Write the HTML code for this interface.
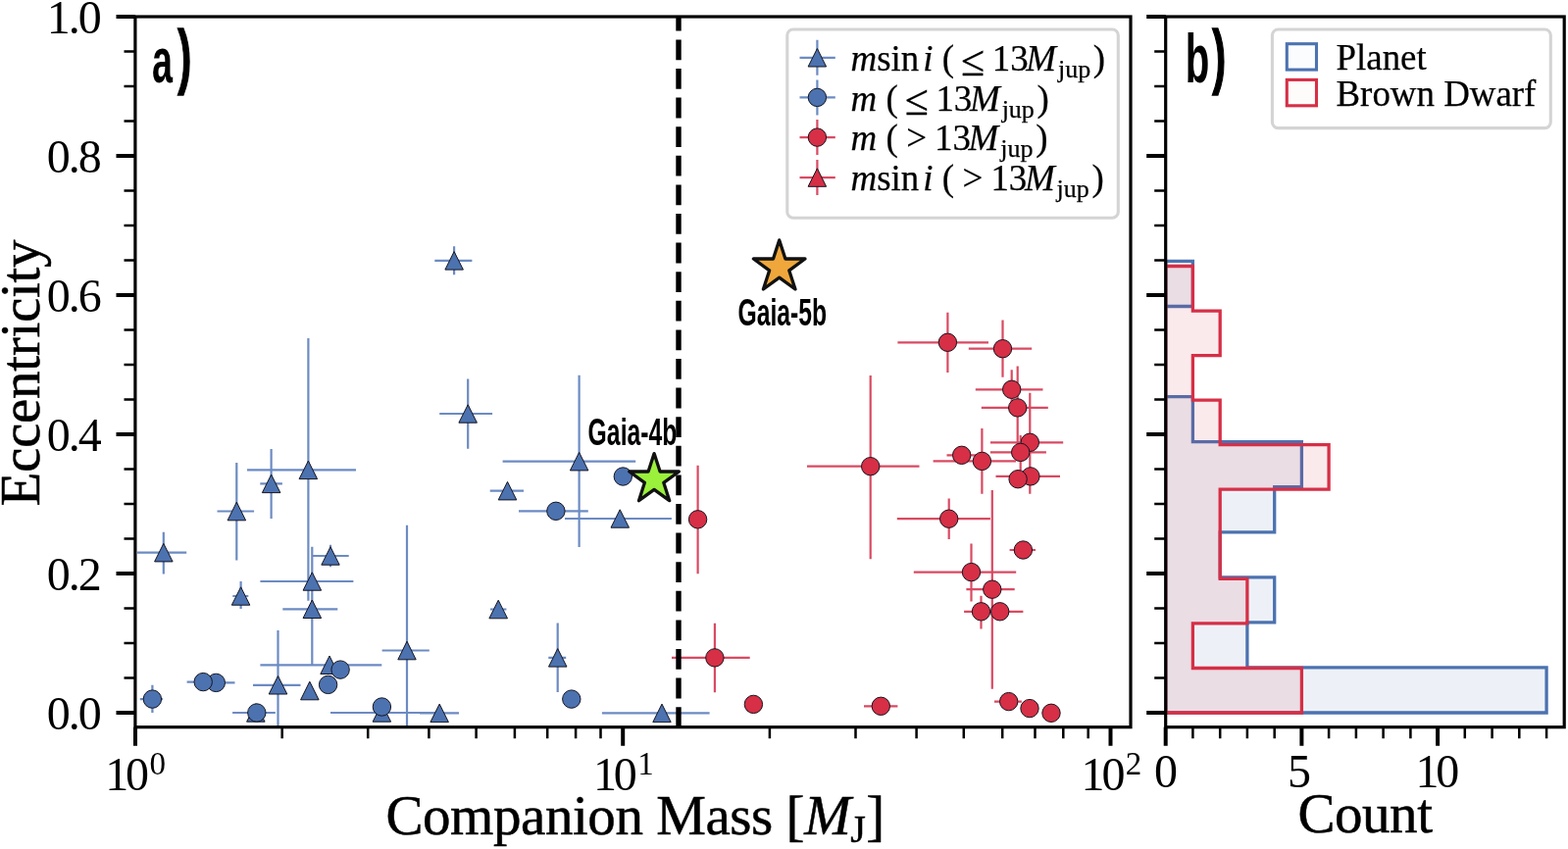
<!DOCTYPE html>
<html lang="en"><head><meta charset="utf-8"><title>Eccentricity vs companion mass</title>
<style>html,body{margin:0;padding:0;background:#fff;overflow:hidden}svg{display:block}</style></head>
<body>
<svg width="1599" height="866" viewBox="0 0 1599 866">
<rect width="1599" height="866" fill="#fff"/>
<defs>
<clipPath id="ca"><rect x="138.0" y="17.0" width="1015.0" height="724.7"/></clipPath>
<clipPath id="cb"><rect x="1188.7" y="17.0" width="406.5" height="724.7"/></clipPath>
</defs>
<g clip-path="url(#ca)">
<path d="M140.0 563.6H190.2M166.8 542.8V585.4M221.5 521.5H259.1M241.3 471.9V571.6M265.3 493.4H287.9M276.6 458.1V529.0M252.0 479.4H363.0M314.4 345.0V612.8M317.5 567.0H355.7M337.0 555.7V578.3M265.4 593.0H360.4M318.3 557.8V628.0M237.3 608.0H253.3M245.6 593.0V621.0M288.3 621.3H344.3M318.3 565.0V677.9M258.0 698.8H306.5M283.5 642.9V745.0M265.4 678.3H389.3M237.3 727.0H280.6M337.0 727.0H445.0M389.6 663.5H437.8M415.0 535.7V745.0M428.0 727.4H468.0M443.3 265.9H481.4M463.1 251.3V280.2M448.2 422.0H502.1M477.2 386.6V457.7M499.7 500.6H534.0M500.0 621.5H516.4M559.3 670.9H577.2M568.7 635.5V706.1M512.6 470.7H648.2M590.6 382.8V558.0M576.0 529.0H684.9M613.9 727.4H723.6" stroke="#6c8bc3" stroke-width="2.2" fill="none"/>
<path d="M166.8 554.4L176.1 572.9H157.6Z" fill="#4c72b0" stroke="#15151f" stroke-width="1" stroke-linejoin="miter"/><path d="M241.3 512.2L250.6 530.8H232.1Z" fill="#4c72b0" stroke="#15151f" stroke-width="1" stroke-linejoin="miter"/><path d="M276.6 484.1L285.9 502.6H267.4Z" fill="#4c72b0" stroke="#15151f" stroke-width="1" stroke-linejoin="miter"/><path d="M314.4 470.1L323.6 488.6H305.1Z" fill="#4c72b0" stroke="#15151f" stroke-width="1" stroke-linejoin="miter"/><path d="M337.0 557.8L346.2 576.2H327.8Z" fill="#4c72b0" stroke="#15151f" stroke-width="1" stroke-linejoin="miter"/><path d="M318.3 583.8L327.6 602.2H309.1Z" fill="#4c72b0" stroke="#15151f" stroke-width="1" stroke-linejoin="miter"/><path d="M245.6 598.8L254.8 617.2H236.3Z" fill="#4c72b0" stroke="#15151f" stroke-width="1" stroke-linejoin="miter"/><path d="M318.3 612.0L327.6 630.5H309.1Z" fill="#4c72b0" stroke="#15151f" stroke-width="1" stroke-linejoin="miter"/><path d="M283.5 689.5L292.8 708.0H274.2Z" fill="#4c72b0" stroke="#15151f" stroke-width="1" stroke-linejoin="miter"/><path d="M315.8 695.2L325.1 713.8H306.6Z" fill="#4c72b0" stroke="#15151f" stroke-width="1" stroke-linejoin="miter"/><path d="M336.0 669.0L345.2 687.5H326.8Z" fill="#4c72b0" stroke="#15151f" stroke-width="1" stroke-linejoin="miter"/><path d="M260.8 717.8L270.1 736.2H251.6Z" fill="#4c72b0" stroke="#15151f" stroke-width="1" stroke-linejoin="miter"/><path d="M389.4 717.8L398.6 736.2H380.1Z" fill="#4c72b0" stroke="#15151f" stroke-width="1" stroke-linejoin="miter"/><path d="M415.0 654.2L424.2 672.8H405.8Z" fill="#4c72b0" stroke="#15151f" stroke-width="1" stroke-linejoin="miter"/><path d="M448.2 718.1L457.4 736.6H438.9Z" fill="#4c72b0" stroke="#15151f" stroke-width="1" stroke-linejoin="miter"/><path d="M463.1 256.6L472.4 275.1H453.9Z" fill="#4c72b0" stroke="#15151f" stroke-width="1" stroke-linejoin="miter"/><path d="M477.2 412.8L486.4 431.2H467.9Z" fill="#4c72b0" stroke="#15151f" stroke-width="1" stroke-linejoin="miter"/><path d="M517.5 491.4L526.8 509.9H508.2Z" fill="#4c72b0" stroke="#15151f" stroke-width="1" stroke-linejoin="miter"/><path d="M508.2 612.2L517.5 630.8H498.9Z" fill="#4c72b0" stroke="#15151f" stroke-width="1" stroke-linejoin="miter"/><path d="M568.7 661.6L578.0 680.1H559.5Z" fill="#4c72b0" stroke="#15151f" stroke-width="1" stroke-linejoin="miter"/><path d="M590.6 461.4L599.9 479.9H581.4Z" fill="#4c72b0" stroke="#15151f" stroke-width="1" stroke-linejoin="miter"/><path d="M632.2 519.8L641.5 538.2H623.0Z" fill="#4c72b0" stroke="#15151f" stroke-width="1" stroke-linejoin="miter"/><path d="M675.0 718.1L684.2 736.6H665.8Z" fill="#4c72b0" stroke="#15151f" stroke-width="1" stroke-linejoin="miter"/>
<path d="M142.8 713.1H166.1M155.4 698.8V727.0M203.0 696.4H239.5M190.6 695.6H224.0M237.3 727.0H280.6M529.0 521.3H599.8" stroke="#6c8bc3" stroke-width="2.2" fill="none"/>
<circle cx="155.4" cy="713.1" r="9.2" fill="#4c72b0" stroke="#15151f" stroke-width="1"/><circle cx="220.3" cy="696.4" r="9.2" fill="#4c72b0" stroke="#15151f" stroke-width="1"/><circle cx="207.2" cy="695.6" r="9.2" fill="#4c72b0" stroke="#15151f" stroke-width="1"/><circle cx="261.8" cy="727.0" r="9.2" fill="#4c72b0" stroke="#15151f" stroke-width="1"/><circle cx="334.6" cy="698.4" r="9.2" fill="#4c72b0" stroke="#15151f" stroke-width="1"/><circle cx="347.1" cy="683.1" r="9.2" fill="#4c72b0" stroke="#15151f" stroke-width="1"/><circle cx="389.4" cy="721.0" r="9.2" fill="#4c72b0" stroke="#15151f" stroke-width="1"/><circle cx="566.9" cy="521.3" r="9.2" fill="#4c72b0" stroke="#15151f" stroke-width="1"/><circle cx="582.8" cy="713.1" r="9.2" fill="#4c72b0" stroke="#15151f" stroke-width="1"/><circle cx="635.3" cy="486.0" r="9.2" fill="#4c72b0" stroke="#15151f" stroke-width="1"/>
<path d="M711.6 474.7V585.3M685.0 670.9H764.7M728.9 635.8V706.2M823.0 475.7H937.5M887.7 382.9V570.2M881.0 720.3H915.4M915.4 349.3H1008.0M966.4 318.8V380.0M987.8 355.7H1052.2M1022.5 326.4V384.7M994.8 397.3H1063.5M1031.7 377.2V417.0M1000.8 415.9H1068.8M1037.7 373.4V455.0M1010.0 451.3H1084.2M1050.3 400.7V503.8M1009.9 461.4H1066.9M1040.7 444.0V480.0M965.5 464.3H996.0M951.6 470.4H1036.0M1001.4 437.0V503.8M1015.5 485.9H1081.0M914.8 529.2H1009.9M967.7 508.5V549.9M1029.6 561.0H1056.0M931.8 583.6H1036.2M990.5 554.5V613.4M985.4 601.2H1034.7M1011.8 500.0V702.8M1000.0 623.8H1043.4M983.1 623.8H1018.0M1000.5 607.8V641.6M1014.0 715.6H1041.9" stroke="#d94a62" stroke-width="2.2" fill="none"/>
<circle cx="711.6" cy="529.8" r="9.2" fill="#d62f46" stroke="#15151f" stroke-width="1"/><circle cx="728.9" cy="670.9" r="9.2" fill="#d62f46" stroke="#15151f" stroke-width="1"/><circle cx="768.4" cy="718.4" r="9.2" fill="#d62f46" stroke="#15151f" stroke-width="1"/><circle cx="887.7" cy="475.7" r="9.2" fill="#d62f46" stroke="#15151f" stroke-width="1"/><circle cx="898.3" cy="720.3" r="9.2" fill="#d62f46" stroke="#15151f" stroke-width="1"/><circle cx="966.4" cy="349.3" r="9.2" fill="#d62f46" stroke="#15151f" stroke-width="1"/><circle cx="1022.5" cy="355.7" r="9.2" fill="#d62f46" stroke="#15151f" stroke-width="1"/><circle cx="1031.7" cy="397.3" r="9.2" fill="#d62f46" stroke="#15151f" stroke-width="1"/><circle cx="1037.7" cy="415.9" r="9.2" fill="#d62f46" stroke="#15151f" stroke-width="1"/><circle cx="1050.3" cy="451.3" r="9.2" fill="#d62f46" stroke="#15151f" stroke-width="1"/><circle cx="1040.7" cy="461.4" r="9.2" fill="#d62f46" stroke="#15151f" stroke-width="1"/><circle cx="980.7" cy="464.3" r="9.2" fill="#d62f46" stroke="#15151f" stroke-width="1"/><circle cx="1001.4" cy="470.4" r="9.2" fill="#d62f46" stroke="#15151f" stroke-width="1"/><circle cx="1050.9" cy="485.9" r="9.2" fill="#d62f46" stroke="#15151f" stroke-width="1"/><circle cx="1038.1" cy="488.7" r="9.2" fill="#d62f46" stroke="#15151f" stroke-width="1"/><circle cx="967.7" cy="529.2" r="9.2" fill="#d62f46" stroke="#15151f" stroke-width="1"/><circle cx="1043.4" cy="561.0" r="9.2" fill="#d62f46" stroke="#15151f" stroke-width="1"/><circle cx="990.5" cy="583.6" r="9.2" fill="#d62f46" stroke="#15151f" stroke-width="1"/><circle cx="1011.8" cy="601.2" r="9.2" fill="#d62f46" stroke="#15151f" stroke-width="1"/><circle cx="1019.7" cy="623.8" r="9.2" fill="#d62f46" stroke="#15151f" stroke-width="1"/><circle cx="1000.5" cy="623.8" r="9.2" fill="#d62f46" stroke="#15151f" stroke-width="1"/><circle cx="1028.7" cy="715.6" r="9.2" fill="#d62f46" stroke="#15151f" stroke-width="1"/><circle cx="1050.0" cy="722.6" r="9.2" fill="#d62f46" stroke="#15151f" stroke-width="1"/><circle cx="1072.0" cy="727.3" r="9.2" fill="#d62f46" stroke="#15151f" stroke-width="1"/>
<path d="M692 742V17" stroke="#000" stroke-width="5.4" stroke-dasharray="20.8 8.8" fill="none"/>
<path d="M667.1 462.6L673.1 481.0L692.4 481.0L676.8 492.3L682.7 510.7L667.1 499.4L651.5 510.7L657.4 492.3L641.8 481.0L661.1 481.0Z" fill="#9bf03c" stroke="#111" stroke-width="3.3" stroke-linejoin="round"/>
<path d="M794.7 244.9L800.9 264.0L821.0 264.0L804.8 275.9L811.0 295.0L794.7 283.2L778.4 295.0L784.6 275.9L768.4 264.0L788.5 264.0Z" fill="#efa73c" stroke="#111" stroke-width="3.3" stroke-linejoin="round"/>
</g>
<g clip-path="url(#cb)">
<path d="M1188.7 727L1577.1 727.0L1577.1 680.9L1271.9 680.9L1271.9 634.9L1299.7 634.9L1299.7 588.8L1244.2 588.8L1244.2 542.8L1299.7 542.8L1299.7 496.7L1327.4 496.7L1327.4 450.6L1216.4 450.6L1216.4 404.6L1188.7 404.6L1188.7 358.5L1188.7 358.5L1188.7 312.5L1216.4 312.5L1216.4 266.4L1188.7 266.4Z" fill="#4c72b0" fill-opacity="0.1" stroke="none"/>
<path d="M1188.7 727L1577.1 727.0L1577.1 680.9L1271.9 680.9L1271.9 634.9L1299.7 634.9L1299.7 588.8L1244.2 588.8L1244.2 542.8L1299.7 542.8L1299.7 496.7L1327.4 496.7L1327.4 450.6L1216.4 450.6L1216.4 404.6L1188.7 404.6L1188.7 358.5L1188.7 358.5L1188.7 312.5L1216.4 312.5L1216.4 266.4L1188.7 266.4Z" fill="none" stroke="#4c72b0" stroke-width="3.3" stroke-linejoin="miter"/>
<path d="M1188.7 727L1327.4 727.0L1327.4 681.5L1216.4 681.5L1216.4 635.9L1271.9 635.9L1271.9 590.4L1244.2 590.4L1244.2 544.8L1244.2 544.8L1244.2 499.2L1355.1 499.2L1355.1 453.7L1244.2 453.7L1244.2 408.2L1216.4 408.2L1216.4 362.6L1244.2 362.6L1244.2 317.1L1216.4 317.1L1216.4 271.5L1188.7 271.5Z" fill="#d62f46" fill-opacity="0.1" stroke="none"/>
<path d="M1188.7 727L1327.4 727.0L1327.4 681.5L1216.4 681.5L1216.4 635.9L1271.9 635.9L1271.9 590.4L1244.2 590.4L1244.2 544.8L1244.2 544.8L1244.2 499.2L1355.1 499.2L1355.1 453.7L1244.2 453.7L1244.2 408.2L1216.4 408.2L1216.4 362.6L1244.2 362.6L1244.2 317.1L1216.4 317.1L1216.4 271.5L1188.7 271.5Z" fill="none" stroke="#d62f46" stroke-width="3.3" stroke-linejoin="miter"/>
</g>
<path d="M118.5 727.0H138.0M1169.2 727.0H1188.7M118.5 585.0H138.0M1169.2 585.0H1188.7M118.5 443.0H138.0M1169.2 443.0H1188.7M118.5 301.0H138.0M1169.2 301.0H1188.7M118.5 159.0H138.0M1169.2 159.0H1188.7M118.5 17.0H138.0M1169.2 17.0H1188.7M138.0 741.7V760.7M635.2 741.7V760.7M1132.5 741.7V760.7M1188.7 741.7V760.7M1327.4 741.7V760.7M1466.1 741.7V760.7" stroke="#000" stroke-width="4" fill="none"/>
<path d="M126.5 691.5H138.0M1177.2 691.5H1188.7M126.5 656.0H138.0M1177.2 656.0H1188.7M126.5 620.5H138.0M1177.2 620.5H1188.7M126.5 549.5H138.0M1177.2 549.5H1188.7M126.5 514.0H138.0M1177.2 514.0H1188.7M126.5 478.5H138.0M1177.2 478.5H1188.7M126.5 407.5H138.0M1177.2 407.5H1188.7M126.5 372.0H138.0M1177.2 372.0H1188.7M126.5 336.5H138.0M1177.2 336.5H1188.7M126.5 265.5H138.0M1177.2 265.5H1188.7M126.5 230.0H138.0M1177.2 230.0H1188.7M126.5 194.5H138.0M1177.2 194.5H1188.7M126.5 123.5H138.0M1177.2 123.5H1188.7M126.5 88.0H138.0M1177.2 88.0H1188.7M126.5 52.5H138.0M1177.2 52.5H1188.7M287.7 741.7V753.2M375.2 741.7V753.2M437.4 741.7V753.2M485.6 741.7V753.2M524.9 741.7V753.2M558.2 741.7V753.2M587.1 741.7V753.2M612.5 741.7V753.2M784.9 741.7V753.2M872.5 741.7V753.2M934.6 741.7V753.2M982.8 741.7V753.2M1022.2 741.7V753.2M1055.5 741.7V753.2M1084.3 741.7V753.2M1109.7 741.7V753.2M1216.4 741.7V753.2M1244.2 741.7V753.2M1271.9 741.7V753.2M1299.7 741.7V753.2M1355.1 741.7V753.2M1382.9 741.7V753.2M1410.6 741.7V753.2M1438.4 741.7V753.2M1493.8 741.7V753.2M1521.6 741.7V753.2M1549.3 741.7V753.2M1577.1 741.7V753.2" stroke="#000" stroke-width="2.5" fill="none"/>
<rect x="137.9" y="17.0" width="1015.1" height="724.7" fill="none" stroke="#000" stroke-width="3.2"/>
<rect x="1188.7" y="17.0" width="406.5" height="724.7" fill="none" stroke="#000" stroke-width="3.2"/>
<text x="101.8" y="744.0" font-family="'Liberation Serif','DejaVu Serif',serif" font-size="48" letter-spacing="-2.0" text-anchor="end" >0.0</text>
<text x="101.8" y="602.0" font-family="'Liberation Serif','DejaVu Serif',serif" font-size="48" letter-spacing="-2.0" text-anchor="end" >0.2</text>
<text x="101.8" y="460.0" font-family="'Liberation Serif','DejaVu Serif',serif" font-size="48" letter-spacing="-2.0" text-anchor="end" >0.4</text>
<text x="101.8" y="318.0" font-family="'Liberation Serif','DejaVu Serif',serif" font-size="48" letter-spacing="-2.0" text-anchor="end" >0.6</text>
<text x="101.8" y="176.0" font-family="'Liberation Serif','DejaVu Serif',serif" font-size="48" letter-spacing="-2.0" text-anchor="end" >0.8</text>
<text x="101.8" y="34.0" font-family="'Liberation Serif','DejaVu Serif',serif" font-size="48" letter-spacing="-2.0" text-anchor="end" >1.0</text>
<text x="107.3" y="806" font-family="'Liberation Serif','DejaVu Serif',serif" font-size="48" letter-spacing="-3.2" >10<tspan dy="-16" font-size="33" dx="3.6">0</tspan></text>
<text x="605.0" y="806" font-family="'Liberation Serif','DejaVu Serif',serif" font-size="48" letter-spacing="-3.2" >10<tspan dy="-16" font-size="33" dx="3.6">1</tspan></text>
<text x="1102.6" y="806" font-family="'Liberation Serif','DejaVu Serif',serif" font-size="48" letter-spacing="-3.2" >10<tspan dy="-16" font-size="33" dx="3.6">2</tspan></text>
<text x="1187.5" y="802.7" font-family="'Liberation Serif','DejaVu Serif',serif" font-size="48" letter-spacing="-3.2" text-anchor="middle" >0</text>
<text x="1323.3" y="802.7" font-family="'Liberation Serif','DejaVu Serif',serif" font-size="48" letter-spacing="-3.2" text-anchor="middle" >5</text>
<text x="1464.2" y="802.7" font-family="'Liberation Serif','DejaVu Serif',serif" font-size="48" letter-spacing="-3.2" text-anchor="middle" >10</text>
<text x="393.5" y="851.4" font-family="'Liberation Serif','DejaVu Serif',serif" font-size="57" letter-spacing="-0.45" stroke="#000" stroke-width="0.5">Companion Mass [<tspan font-style="italic">M</tspan><tspan font-size="40" dy="8">J</tspan><tspan dy="-8" dx="1">]</tspan></text>
<text x="1392" y="849.2" font-family="'Liberation Serif','DejaVu Serif',serif" font-size="57" letter-spacing="-0.45" text-anchor="middle" stroke="#000" stroke-width="0.5">Count</text>
<text transform="translate(40.2,380.6) rotate(-90)" font-family="'Liberation Serif','DejaVu Serif',serif" font-size="57" letter-spacing="-0.3" text-anchor="middle" stroke="#000" stroke-width="0.5">Eccentricity</text>
<text transform="translate(155,83.9) scale(0.58,1)" font-family="'Liberation Sans','DejaVu Sans',sans-serif" font-weight="bold" font-size="65" text-anchor="start">a<tspan font-size="72.6" dy="-1.5" dx="9" stroke="#000" stroke-width="1.6">)</tspan></text>
<text transform="translate(1208.8,83.9) scale(0.575,1)" font-family="'Liberation Sans','DejaVu Sans',sans-serif" font-weight="bold" font-size="70" text-anchor="start">b<tspan font-size="72.6" dy="-1.5" dx="5" stroke="#000" stroke-width="1.6">)</tspan></text>
<text transform="translate(645,453.9) scale(0.643,1)" font-family="'Liberation Sans','DejaVu Sans',sans-serif" font-weight="bold" font-size="38.5" text-anchor="middle">Gaia-4b</text>
<text transform="translate(797.8,332.2) scale(0.643,1)" font-family="'Liberation Sans','DejaVu Sans',sans-serif" font-weight="bold" font-size="38.5" text-anchor="middle">Gaia-5b</text>
<rect x="802.8" y="30" width="337.5" height="192.2" rx="6" fill="#fff" fill-opacity="0.8" stroke="#d4d4d4" stroke-width="3.1"/>
<path d="M815.5 58.8H851.8M833.4 40.8V76.8" stroke="#6c8bc3" stroke-width="2.2" fill="none"/>
<path d="M833.4 49.5L842.6 68.0H824.1Z" fill="#4c72b0" stroke="#15151f" stroke-width="1" stroke-linejoin="miter"/>
<path d="M815.5 99.4H851.8M833.4 81.4V117.4" stroke="#6c8bc3" stroke-width="2.2" fill="none"/>
<circle cx="833.4" cy="99.4" r="9.2" fill="#4c72b0" stroke="#15151f" stroke-width="1"/>
<path d="M815.5 140.1H851.8M833.4 122.1V158.1" stroke="#d94a62" stroke-width="2.2" fill="none"/>
<circle cx="833.4" cy="140.1" r="9.2" fill="#d62f46" stroke="#15151f" stroke-width="1"/>
<path d="M815.5 181.1H851.8M833.4 163.1V199.1" stroke="#d94a62" stroke-width="2.2" fill="none"/>
<path d="M833.4 171.8L842.6 190.3H824.1Z" fill="#d62f46" stroke="#15151f" stroke-width="1" stroke-linejoin="miter"/>
<text x="867.6" y="72.1" font-family="'Liberation Serif','DejaVu Serif',serif" font-size="36.9" stroke="#000" stroke-width="0.25"><tspan font-style="italic">m</tspan>sin<tspan dx="4" font-style="italic">i</tspan> (<tspan dx="7" dy="4.4" font-size="44">≤</tspan><tspan dy="-4.4" dx="7.5">13</tspan><tspan dx="-2.4" font-style="italic">M</tspan><tspan font-size="26" dy="6.8" dx="2">jup</tspan><tspan dy="-6.8" dx="2.6">)</tspan></text>
<text x="867.6" y="112.7" font-family="'Liberation Serif','DejaVu Serif',serif" font-size="36.9" stroke="#000" stroke-width="0.25"><tspan font-style="italic">m</tspan> (<tspan dx="7" dy="4.4" font-size="44">≤</tspan><tspan dy="-4.4" dx="7.5">13</tspan><tspan dx="-2.4" font-style="italic">M</tspan><tspan font-size="26" dy="6.8" dx="2">jup</tspan><tspan dy="-6.8" dx="2.6">)</tspan></text>
<text x="867.6" y="153.4" font-family="'Liberation Serif','DejaVu Serif',serif" font-size="36.9" stroke="#000" stroke-width="0.25"><tspan font-style="italic">m</tspan> (<tspan dx="8.5">&gt;</tspan><tspan dx="8">13</tspan><tspan dx="-2.4" font-style="italic">M</tspan><tspan font-size="26" dy="6.8" dx="2">jup</tspan><tspan dy="-6.8" dx="2.6">)</tspan></text>
<text x="867.6" y="194.4" font-family="'Liberation Serif','DejaVu Serif',serif" font-size="36.9" stroke="#000" stroke-width="0.25"><tspan font-style="italic">m</tspan>sin<tspan dx="4" font-style="italic">i</tspan> (<tspan dx="8.5">&gt;</tspan><tspan dx="8">13</tspan><tspan dx="-2.4" font-style="italic">M</tspan><tspan font-size="26" dy="6.8" dx="2">jup</tspan><tspan dy="-6.8" dx="2.6">)</tspan></text>
<rect x="1297.4" y="30" width="283.9" height="100.6" rx="6" fill="#fff" fill-opacity="0.8" stroke="#d4d4d4" stroke-width="3.1"/>
<rect x="1312.3" y="44.7" width="30.2" height="26.4" fill="#4c72b0" fill-opacity="0.02" stroke="#4c72b0" stroke-width="3.1"/>
<rect x="1312.3" y="81.4" width="30.2" height="26.4" fill="#d62f46" fill-opacity="0.02" stroke="#d62f46" stroke-width="3.1"/>
<text x="1362.5" y="71.2" font-family="'Liberation Serif','DejaVu Serif',serif" font-size="36.9" stroke="#000" stroke-width="0.25">Planet</text>
<text x="1362.5" y="107.9" font-family="'Liberation Serif','DejaVu Serif',serif" font-size="36.9" stroke="#000" stroke-width="0.25">Brown Dwarf</text>
</svg>
</body></html>
